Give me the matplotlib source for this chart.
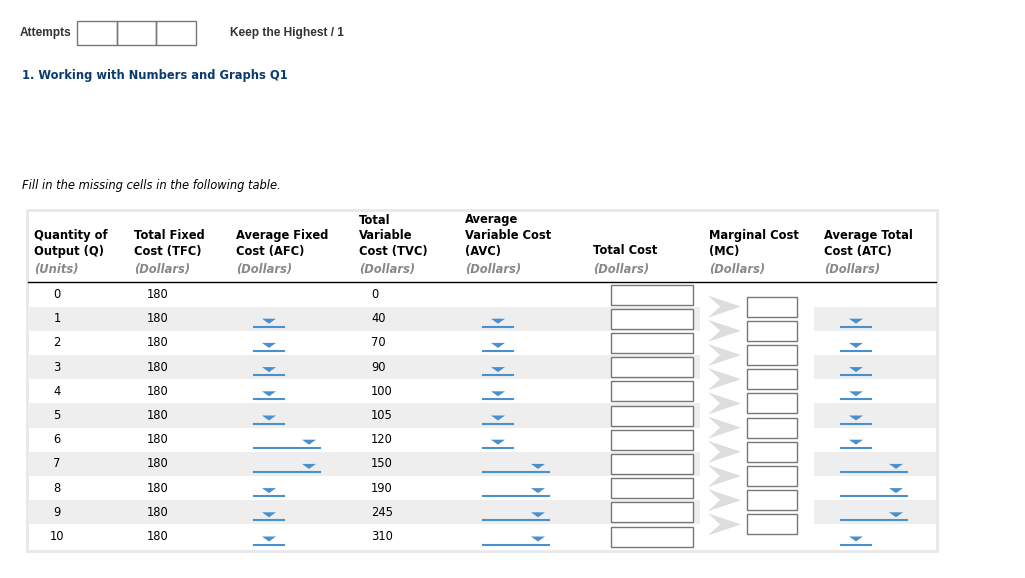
import matplotlib.pyplot as plt
from matplotlib.patches import Rectangle, Polygon

# table data
quantity = [0, 1, 2, 3, 4, 5, 6, 7, 8, 9, 10]
tfc = [180, 180, 180, 180, 180, 180, 180, 180, 180, 180, 180]
tvc = [0, 40, 70, 90, 100, 105, 120, 150, 190, 245, 310]
# dropdown state per row: None = no dropdown, 0 = short, 1 = wide
afc_dd = [None, 0, 0, 0, 0, 0, 1, 1, 0, 0, 0]
avc_dd = [None, 0, 0, 0, 0, 0, 0, 1, 1, 1, 1]
atc_dd = [None, 0, 0, 0, 0, 0, 0, 1, 1, 1, 0]

headers = [
    (34, ["Quantity of", "Output (Q)"], "(Units)"),
    (134, ["Total Fixed", "Cost (TFC)"], "(Dollars)"),
    (236, ["Average Fixed", "Cost (AFC)"], "(Dollars)"),
    (359, ["Total", "Variable", "Cost (TVC)"], "(Dollars)"),
    (465, ["Average", "Variable Cost", "(AVC)"], "(Dollars)"),
    (593, ["Total Cost"], "(Dollars)"),
    (709, ["Marginal Cost", "(MC)"], "(Dollars)"),
    (824, ["Average Total", "Cost (ATC)"], "(Dollars)"),
]

fig = plt.figure(figsize=(10.25, 5.78), dpi=100)
ax = fig.add_axes([0, 0, 1, 1])
ax.set_xlim(0, 1025)
ax.set_ylim(578, 0)
ax.axis('off')

blue = '#4a90cc'
fs = 8.3
hdr_font = dict(family='DejaVu Sans', fontweight='bold', fontsize=fs)

# top bar
ax.text(20, 33, "Attempts", family='Liberation Sans', fontweight='bold', fontsize=8.6,
        color='#333333', va='center')
for i in range(3):
    ax.add_patch(Rectangle((77 + i * 39.5, 21), 39.5, 24, fill=False, ec='#777777', lw=1))
ax.text(230, 33, "Keep the Highest / 1", family='Liberation Sans', fontweight='bold',
        fontsize=8.6, color='#333333', va='center')
ax.text(22, 76, "1. Working with Numbers and Graphs Q1", color='#0b3b6e', va='center', **hdr_font)
ax.text(22, 185, "Fill in the missing cells in the following table.", family='DejaVu Sans',
        style='italic', fontsize=fs, va='center')

# table frame
ax.add_patch(Rectangle((27, 210), 910, 341, fill=False, ec='#e8e8e8', lw=2))
for x, lines, unit in headers:
    for k, ln in enumerate(reversed(lines)):
        ax.text(x, 251 - k * 15.5, ln, va='center', **hdr_font)
    ax.text(x, 270, unit, va='center', family='DejaVu Sans', fontweight='bold',
            style='italic', fontsize=fs, color='#888888')
ax.plot([28, 936], [281.5, 281.5], color='black', lw=1)

row_h = 24.2
y0 = 294.5


def dropdown(x, y, wide):
    w = 66 if wide else 30
    ax.plot([x, x + w], [y + 8, y + 8], color=blue, lw=1.5)
    cx = x + w - 11 if wide else x + 15
    ax.add_patch(Polygon([(cx - 7, y), (cx + 7, y), (cx, y + 5)], color=blue, lw=0))


for i, q in enumerate(quantity):
    y = y0 + i * row_h
    if i % 2 == 1:
        ax.add_patch(Rectangle((28, y - row_h / 2), 672, row_h, color='#eeeeee', lw=0))
        ax.add_patch(Rectangle((814, y - row_h / 2), 122, row_h, color='#eeeeee', lw=0))
    ax.text(57, y, str(q), ha='center', va='center', family='DejaVu Sans', fontsize=fs)
    ax.text(147, y, str(tfc[i]), va='center', family='DejaVu Sans', fontsize=fs)
    ax.text(371, y, str(tvc[i]), va='center', family='DejaVu Sans', fontsize=fs)
    if afc_dd[i] is not None:
        dropdown(254, y, afc_dd[i])
    if avc_dd[i] is not None:
        dropdown(483, y, avc_dd[i])
    if atc_dd[i] is not None:
        dropdown(841, y, atc_dd[i])
    ax.add_patch(Rectangle((611, y - 10), 82, 20, fc='white', ec='#777777', lw=1))
    if i < len(quantity) - 1:
        ym = y + row_h / 2
        ax.add_patch(Polygon([(708, ym - 11), (741, ym), (708, ym + 11), (720, ym)],
                             color='#dddddd', lw=0))
        ax.add_patch(Rectangle((747, ym - 10), 50, 20, fc='white', ec='#777777', lw=1))

fig.savefig('out.png', dpi=100)
